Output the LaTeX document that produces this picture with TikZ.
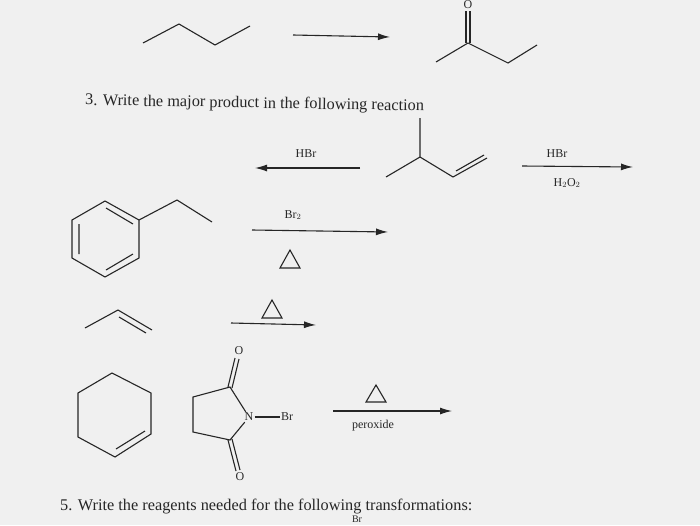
\documentclass[tikz,border=0pt]{standalone}
\usepackage{fontspec}
\setmainfont{Liberation Serif}
\usetikzlibrary{arrows.meta}
\begin{document}
\begin{tikzpicture}[x=1pt,y=-1pt,
  bond/.style={line width=1.1pt,black!85},
  rxn/.style={line width=1.1pt,black!85,-{Latex[length=12pt,width=7pt]}},
  lbl/.style={font=\fontsize{12}{13}\selectfont,inner sep=1pt,text=black!85},
  hdr/.style={font=\fontsize{16.3}{18}\selectfont,anchor=west,inner sep=0pt,text=black!85},
  tri/.style={line width=1.1pt,black!85}]
\fill[gray!12] (0,0) rectangle (700,525);
\useasboundingbox (0,0) rectangle (700,525);
% butane
\draw[bond] (143,43)--(179,24)--(215,45)--(250,26);
\coordinate (a1s) at (293,35); \coordinate (a1e) at (390,37);
\draw[rxn] (a1s)--(a1e);
% butanone
\node[lbl,inner sep=0pt] (o1) at (468,5) {O};
\draw[bond] (466,43)--(466,11) (470,43)--(470,11);
\draw[bond] (436,62)--(468,43)--(508,63)--(537,45);
\node[hdr,rotate=-1] (t3) at (85,101) {3. Write the major product in the following reaction};
% alkene
\draw[bond] (420,118)--(420,157)--(386,177) (420,157)--(453,177)--(487,158);
\draw[bond] (456,171)--(484,155);
\node[lbl] (hbr1) at (306,154) {HBr};
\coordinate (a2s) at (360,168); \coordinate (a2e) at (255,168);
\draw[rxn] (a2s)--(a2e);
\node[lbl] (hbr2) at (557,154) {HBr};
\node[lbl] (h2o2) at (567,183) {H$_2$O$_2$};
\coordinate (a3s) at (522,166); \coordinate (a3e) at (633,167);
\draw[rxn] (a3s)--(a3e);
% benzene
\draw[bond] (72,220)--(105,201)--(139,220)--(139,258)--(105,277)--(72,258)--cycle;
\draw[bond] (79,224)--(79,254) (106,208)--(133,224) (133,254)--(106,270);
\draw[bond] (139,220)--(177,200)--(212,222);
\node[lbl] (br2) at (293,215) {Br$_2$};
\coordinate (a4s) at (252,230); \coordinate (a4e) at (388,232);
\draw[rxn] (a4s)--(a4e);
\draw[tri] (280,268)--(290,250)--(300,268)--cycle;
% ethylene-ish
\draw[bond] (85,328)--(118,310)--(152,330);
\draw[bond] (119,317)--(146,333);
\draw[tri] (262,318)--(272,300)--(282,318)--cycle;
\coordinate (a5s) at (231,323); \coordinate (a5e) at (316,325);
\draw[rxn] (a5s)--(a5e);
% cyclohexene
\draw[bond] (112,373)--(151,393)--(151,434)--(115,457)--(78,437)--(78,393)--cycle;
\draw[bond] (145,431)--(116,449);
% NBS
\node[lbl] (oa) at (239,351) {O};
\node[lbl] (ob) at (240,477) {O};
\node[lbl] (n) at (249,417) {N};
\node[lbl] (br) at (287,417) {Br};
\draw[bond] (n)--(230,387)--(193,397)--(193,432)--(230,440)--(n);
\draw[bond] (228,387)--(235,358) (232,388)--(239,359);
\draw[bond] (228,440)--(236,471) (232,439)--(240,470);
\draw[bond] (n)--(br);
\draw[tri] (366,402)--(376,385)--(386,402)--cycle;
\node[lbl] (perox) at (373,426) {peroxide};
\coordinate (a6s) at (333,411); \coordinate (a6e) at (452,411);
\draw[rxn] (a6s)--(a6e);
\node[hdr] (t5) at (60,507) {5. Write the reagents needed for the following transformations:};
\node[lbl,font=\fontsize{10}{11}\selectfont] (brc) at (357,519) {Br};
\end{tikzpicture}
\end{document}
